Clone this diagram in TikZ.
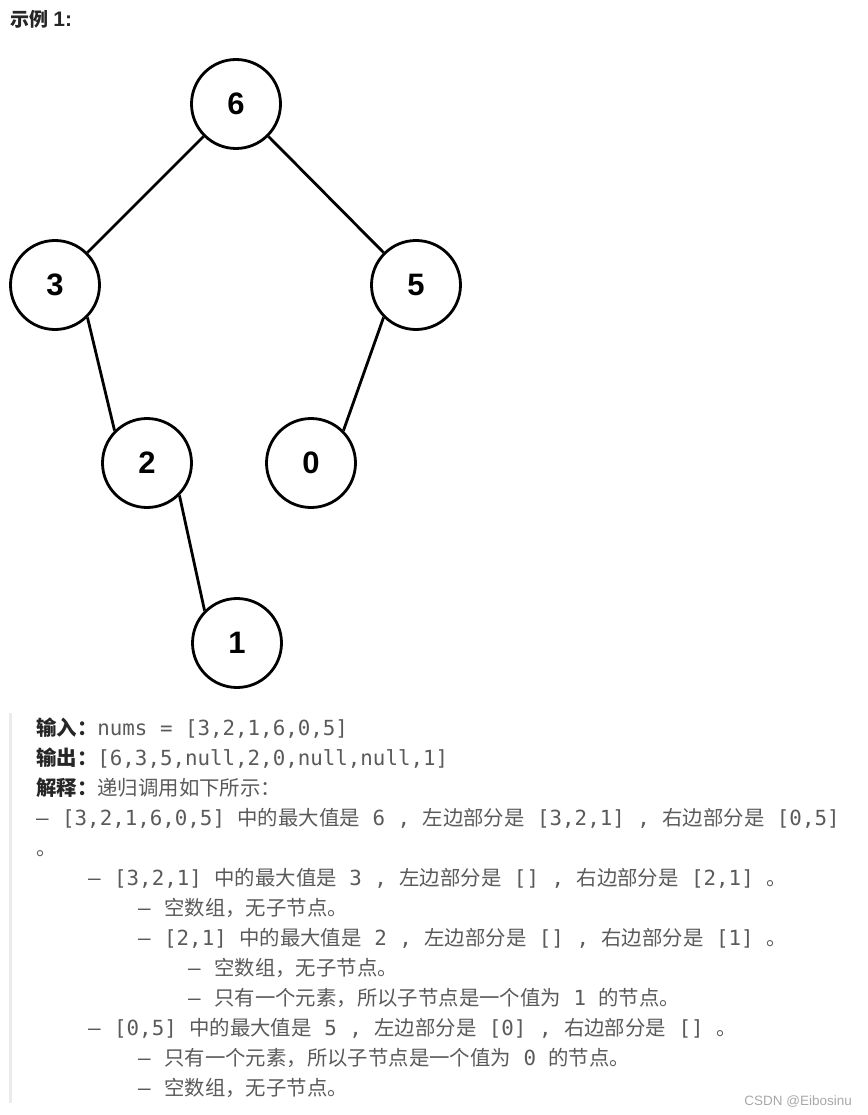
\documentclass[tikz,border=0pt]{standalone}
\usepackage{fontspec}
\setmainfont{Liberation Sans}
\newfontfamily\cjk{Noto Sans CJK SC}
\newfontfamily\mono{DejaVu Sans Mono}[Scale=1.02]
\definecolor{txt}{HTML}{5A5A5A}
\definecolor{lab}{HTML}{262626}
\definecolor{barc}{HTML}{EBEBEB}
\definecolor{wm}{HTML}{A8A8A8}
\newcommand\Zh[1]{{\cjk #1}}
\newcommand\Mo[1]{{\mono #1}}
\newcommand\Dash{\makebox[26pt][l]{\mono –}}
\newcommand\Lab[1]{\textcolor{lab}{\cjk\bfseries #1}}
\tikzset{
  tn/.style={circle, draw, line width=2.8pt, minimum size=89pt, inner sep=0pt,
    font=\fontsize{31}{31}\selectfont\bfseries},
  edge/.style={line width=2.8pt},
  txtline/.style={anchor=base west, inner sep=0pt, text=txt,
    font=\fontsize{20.4}{24}\selectfont},
}
\begin{document}
\begin{tikzpicture}[x=1pt,y=-1pt]
\useasboundingbox (0,0) rectangle (867,1115);
% title
\node[anchor=base west, inner sep=0pt, text=lab, font=\fontsize{19}{22}\selectfont] (title) at (10,27) {{\cjk\bfseries 示例} {\fontsize{21}{22}\selectfont\bfseries 1:}};
% tree
\node[tn] (n6) at (236,104) {6};
\node[tn] (n3) at (55,285) {3};
\node[tn] (n5) at (416,285) {5};
\node[tn] (n2) at (147,463) {2};
\node[tn] (n0) at (311,463) {0};
\node[tn] (n1) at (237,643) {1};
\draw[edge] (n6.225) -- (n3.45);
\draw[edge] (n6.-45) -- (n5.135);
\draw[edge] (n3.-45) -- (n2.135);
\draw[edge] (n5.225) -- (n0.45);
\draw[edge] (n2.-45) -- (n1.135);
% quote bar
\fill[barc] (9,713) rectangle (12,1103);
% text
\node[txtline] (l1) at (36,735) {\Lab{输入：}\Mo{nums = [3,2,1,6,0,5]}};
\node[txtline] (l2) at (36,765) {\Lab{输出：}\Mo{[6,3,5,null,2,0,null,null,1]}};
\node[txtline] (l3) at (36,795) {\Lab{解释：}\Zh{递归调用如下所示：}};
\node[txtline] (l4) at (36,825) {\Dash\Mo{[3,2,1,6,0,5]\ }\Zh{中的最大值是}\Mo{\ 6\ ,\ }\Zh{左边部分是}\Mo{\ [3,2,1]\ ,\ }\Zh{右边部分是}\Mo{\ [0,5]}};
\node[txtline] (l5) at (36,855) {\Zh{。}};
\node[txtline] (l6) at (88,885) {\Dash\Mo{[3,2,1]\ }\Zh{中的最大值是}\Mo{\ 3\ ,\ }\Zh{左边部分是}\Mo{\ []\ ,\ }\Zh{右边部分是}\Mo{\ [2,1]\ }\Zh{。}};
\node[txtline] (l7) at (138,915) {\Dash\Zh{空数组，无子节点。}};
\node[txtline] (l8) at (138,945) {\Dash\Mo{[2,1]\ }\Zh{中的最大值是}\Mo{\ 2\ ,\ }\Zh{左边部分是}\Mo{\ []\ ,\ }\Zh{右边部分是}\Mo{\ [1]\ }\Zh{。}};
\node[txtline] (l9) at (188,975) {\Dash\Zh{空数组，无子节点。}};
\node[txtline] (l10) at (188,1005) {\Dash\Zh{只有一个元素，所以子节点是一个值为}\Mo{\ 1\ }\Zh{的节点。}};
\node[txtline] (l11) at (88,1035) {\Dash\Mo{[0,5]\ }\Zh{中的最大值是}\Mo{\ 5\ ,\ }\Zh{左边部分是}\Mo{\ [0]\ ,\ }\Zh{右边部分是}\Mo{\ []\ }\Zh{。}};
\node[txtline] (l12) at (138,1065) {\Dash\Zh{只有一个元素，所以子节点是一个值为}\Mo{\ 0\ }\Zh{的节点。}};
\node[txtline] (l13) at (138,1095) {\Dash\Zh{空数组，无子节点。}};
% watermark
\node[anchor=base east, inner sep=0pt, text=wm, font=\fontsize{13.5}{16}\selectfont] (wm) at (852,1105) {CSDN @Eibosinu};
\end{tikzpicture}
\end{document}
